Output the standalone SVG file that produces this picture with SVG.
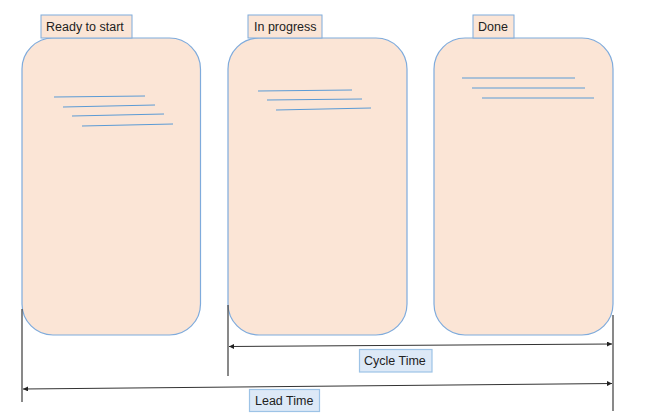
<svg xmlns="http://www.w3.org/2000/svg" width="660" height="416" viewBox="0 0 660 416">
<style>
.card{fill:#fbe5d6;stroke:#7fabdc;stroke-width:1.2}
.tab{fill:#fbe5d6;stroke:#7fabdc;stroke-width:1}
.lbl{fill:#dde9f7;stroke:#9dc3e6;stroke-width:1.2}
.t{font-family:"Liberation Sans",Arial,sans-serif;font-size:12.5px;fill:#222}
.note{stroke:#5b9bd5;stroke-width:1;fill:none}
.dim{stroke:#4a4a4a;stroke-width:1.3;fill:none}
.arr{stroke:#333;stroke-width:1;fill:none}
</style>
<defs>
<marker id="ah" viewBox="0 0 6 6" refX="6" refY="3" markerWidth="5" markerHeight="5" orient="auto-start-reverse">
<path d="M0,0 L6,3 L0,6 z" fill="#222"/>
</marker>
</defs>
<rect width="660" height="416" fill="#fff"/>
<g id="ready">
<rect class="card" x="22" y="38" width="178.5" height="297" rx="31" ry="31"/>
<rect class="tab" x="41" y="15" width="91" height="23"/>
<text class="t" x="46" y="31">Ready to start</text>
<path class="note" d="M54,97 L145,96 M63,107 L155,105 M72,116 L164,114 M82,126 L173,124"/>
</g>
<g id="inprogress">
<rect class="card" x="228" y="38" width="179" height="297" rx="31" ry="31"/>
<rect class="tab" x="248" y="15" width="74" height="23"/>
<text class="t" x="254" y="31">In progress</text>
<path class="note" d="M258,91 L352,90 M267,100 L362,99 M276,110 L371,108"/>
</g>
<g id="done">
<rect class="card" x="434" y="38" width="179" height="297" rx="31" ry="31"/>
<rect class="tab" x="473" y="15" width="41" height="23"/>
<text class="t" x="478" y="31">Done</text>
<path class="note" d="M462,78 L575,78 M472,88 L585,88 M482,98 L594,98"/>
</g>
<g id="connectors">
<line class="dim" x1="22" y1="309" x2="22" y2="402"/>
<line class="dim" x1="228" y1="305" x2="228" y2="376"/>
<line class="dim" x1="613" y1="315" x2="613" y2="411"/>
<line class="arr" x1="229" y1="346.5" x2="612" y2="344" marker-start="url(#ah)" marker-end="url(#ah)"/>
<line class="arr" x1="23" y1="389" x2="612" y2="383.5" marker-start="url(#ah)" marker-end="url(#ah)"/>
</g>
<g id="cycle">
<rect class="lbl" x="359.5" y="349.5" width="72.5" height="22.5"/>
<text class="t" x="364" y="365">Cycle Time</text>
</g>
<g id="lead">
<rect class="lbl" x="249.5" y="389.5" width="70" height="22"/>
<text class="t" x="255" y="405">Lead Time</text>
</g>
</svg>
